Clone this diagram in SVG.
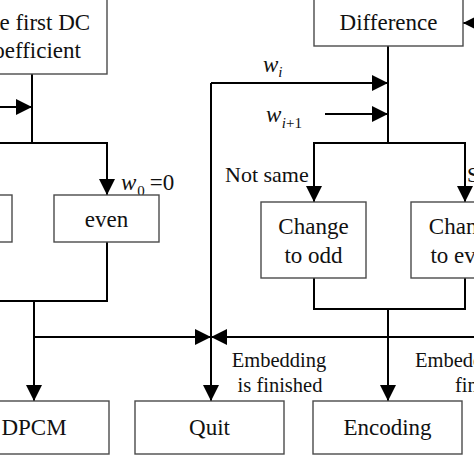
<svg xmlns="http://www.w3.org/2000/svg" width="474" height="474" viewBox="0 0 474 474">
<defs>
<marker id="ah" markerUnits="userSpaceOnUse" markerWidth="16" markerHeight="16" refX="16" refY="8" orient="auto">
<path d="M0,0 L16,8 L0,16 Z" fill="#000"/>
</marker>
<style>
.box{fill:#fff;stroke:#4a4a4a;stroke-width:1.4}
.t{font-family:"Liberation Serif","Times New Roman",serif;font-size:23px;fill:#111;text-anchor:middle}
.s{font-family:"Liberation Serif","Times New Roman",serif;font-size:20.5px;fill:#111}
.w{font-family:"Liberation Serif","Times New Roman",serif;font-size:23px;fill:#111}
.it{font-style:italic}
.c{fill:none;stroke:#000;stroke-width:2}
.a{marker-end:url(#ah)}
</style>
</defs>
<rect width="474" height="474" fill="#fff"/>
<g id="labels">
<text class="s" x="225" y="182" style="font-size:22px">Not same</text>
<text class="s" x="467" y="182" style="font-size:22px">Same</text>
<text class="s" x="279" y="367" text-anchor="middle">Embedding</text>
<text class="s" x="280" y="392" text-anchor="middle">is finished</text>
<text class="s" x="415" y="367">Embedding</text>
<text class="s" x="455" y="392">finished</text>
<text class="w" x="263" y="72"><tspan class="it">w</tspan><tspan class="it" font-size="15" dy="5">i</tspan></text>
<text class="w" x="266" y="122"><tspan class="it">w</tspan><tspan font-size="15" dy="6" dx="0.5"><tspan class="it">i</tspan>+1</tspan></text>
<text class="w" x="121" y="190"><tspan class="it">w</tspan><tspan font-size="15" dy="6" dx="1">0</tspan><tspan dy="-6" dx="5">=0</tspan></text>
</g>
<g id="connectors">
<path class="c" d="M32,74 V143"/>
<path class="c a" d="M-40,143 H107 V195"/>
<path class="c a" d="M-10,107 H32"/>
<path class="c" d="M107,242 V301 H-40"/>
<path class="c a" d="M34,301 V401"/>
<path class="c a" d="M34,337 H211"/>
<path class="c a" d="M480,337 H211"/>
<path class="c a" d="M211,83 V401"/>
<path class="c a" d="M211,83 H388"/>
<path class="c" d="M388,46 V143"/>
<path class="c a" d="M325,114 H388"/>
<path class="c a" d="M388,143 H314 V202"/>
<path class="c a" d="M388,143 H465 V202"/>
<path class="c" d="M314,278 V309 H465 V278"/>
<path class="c a" d="M388,309 V401"/>
<path class="c a" d="M490,23 H463"/>
</g>
<g id="n_first">
<rect class="box" x="-43" y="-20" width="150" height="94"/>
<text class="t" x="32" y="30">The first DC</text>
<text class="t" x="32" y="58">coefficient</text>
</g>
<g id="n_difference">
<rect class="box" x="314" y="-20" width="149" height="66"/>
<text class="t" x="388.5" y="30">Difference</text>
</g>
<g id="n_odd">
<rect class="box" x="-93" y="195" width="105" height="47"/>
<text class="t" x="-40" y="227">odd</text>
</g>
<g id="n_even">
<rect class="box" x="54" y="195" width="105" height="47"/>
<text class="t" x="106.5" y="227">even</text>
</g>
<g id="n_change_odd">
<rect class="box" x="261" y="202" width="105" height="76"/>
<text class="t" x="313.5" y="234">Change</text>
<text class="t" x="313.5" y="263">to odd</text>
</g>
<g id="n_change_even">
<rect class="box" x="411" y="202" width="105" height="76"/>
<text class="t" x="464" y="234">Change</text>
<text class="t" x="464" y="263">to even</text>
</g>
<g id="n_dpcm">
<rect class="box" x="-41" y="401" width="150" height="53"/>
<text class="t" x="34" y="435">DPCM</text>
</g>
<g id="n_quit">
<rect class="box" x="135" y="401" width="149" height="53"/>
<text class="t" x="209.5" y="435">Quit</text>
</g>
<g id="n_encoding">
<rect class="box" x="313" y="401" width="149" height="53"/>
<text class="t" x="387.5" y="435">Encoding</text>
</g>
</svg>
